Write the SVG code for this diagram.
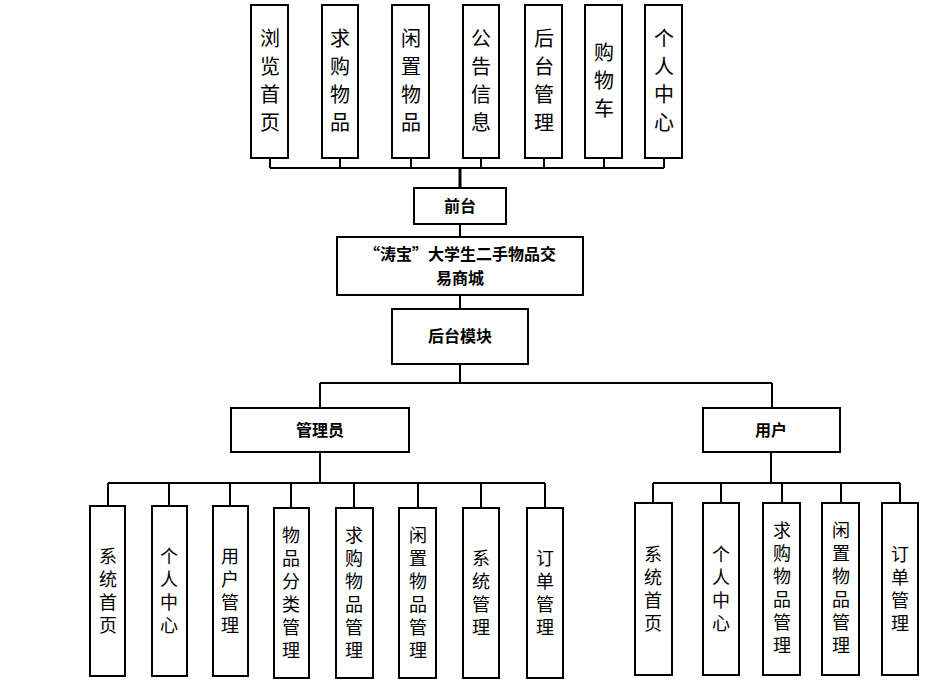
<svg xmlns="http://www.w3.org/2000/svg" width="929" height="689" viewBox="0 0 929 689">
<style>
rect{fill:#fff;stroke:#000;stroke-width:2}
text{font-family:"Noto Sans CJK SC",sans-serif;fill:#000;text-anchor:middle}
.t{font-size:20px}
.b{font-size:18px}
.h{font-size:16px;font-weight:bold}
.c{fill:none;stroke:#000;stroke-width:2}
</style>
<rect x="0" y="0" width="929" height="689" style="stroke:none"/>
<g id="connectors">
<path class="c" d="M270 158V168M340 158V168M411 158V168M481 158V168M544 158V168M604 158V168M664 158V168M270 168H664"/>
<path d="M460 168V188" stroke="#000" stroke-width="3"/>
<path class="c" d="M460 224V237M460 295V309M460 364V383M320 383H772M320 383V408M772 383V408"/>
<path class="c" d="M320 452V483M108 483H545M108 483V506M169 483V506M230 483V506M291 483V508M354 483V508M418 483V508M481 483V508M545 483V508"/>
<path class="c" d="M771 452V483M653 483H900M653 483V503M721 483V503M782 483V503M841 483V503M900 483V503"/>
</g>
<g id="n1"><rect x="251" y="5" width="37" height="153"/><text class="t" x="270" y="46"><tspan x="270">浏</tspan><tspan x="270" dy="28">览</tspan><tspan x="270" dy="28">首</tspan><tspan x="270" dy="28">页</tspan></text></g>
<g id="n2"><rect x="322" y="5" width="36" height="153"/><text class="t" x="340" y="46"><tspan x="340">求</tspan><tspan x="340" dy="28">购</tspan><tspan x="340" dy="28">物</tspan><tspan x="340" dy="28">品</tspan></text></g>
<g id="n3"><rect x="392" y="5" width="37" height="153"/><text class="t" x="411" y="46"><tspan x="411">闲</tspan><tspan x="411" dy="28">置</tspan><tspan x="411" dy="28">物</tspan><tspan x="411" dy="28">品</tspan></text></g>
<g id="n4"><rect x="463" y="5" width="36" height="153"/><text class="t" x="481" y="46"><tspan x="481">公</tspan><tspan x="481" dy="28">告</tspan><tspan x="481" dy="28">信</tspan><tspan x="481" dy="28">息</tspan></text></g>
<g id="n5"><rect x="525" y="5" width="37" height="153"/><text class="t" x="544" y="46"><tspan x="544">后</tspan><tspan x="544" dy="28">台</tspan><tspan x="544" dy="28">管</tspan><tspan x="544" dy="28">理</tspan></text></g>
<g id="n6"><rect x="585" y="5" width="37" height="153"/><text class="t" x="604" y="60"><tspan x="604">购</tspan><tspan x="604" dy="28">物</tspan><tspan x="604" dy="28">车</tspan></text></g>
<g id="n7"><rect x="645" y="5" width="37" height="153"/><text class="t" x="664" y="46"><tspan x="664">个</tspan><tspan x="664" dy="28">人</tspan><tspan x="664" dy="28">中</tspan><tspan x="664" dy="28">心</tspan></text></g>
<g id="qiantai"><rect x="414" y="188" width="92" height="36"/><text class="h" x="460" y="212">前台</text></g>
<g id="main"><rect x="337" y="237" width="246" height="58"/><text class="h" x="460" y="260">“涛宝”大学生二手物品交</text><text class="h" x="460" y="284">易商城</text></g>
<g id="houtai"><rect x="392" y="309" width="136" height="55"/><text class="h" x="460" y="342">后台模块</text></g>
<g id="admin"><rect x="231" y="408" width="178" height="44"/><text class="h" x="320" y="436">管理员</text></g>
<g id="user"><rect x="703" y="408" width="137" height="44"/><text class="h" x="771" y="436">用户</text></g>
<g id="a1"><rect x="90" y="506" width="35" height="170"/><text class="b" y="563"><tspan x="108">系</tspan><tspan x="108" dy="23">统</tspan><tspan x="108" dy="23">首</tspan><tspan x="108" dy="23">页</tspan></text></g>
<g id="a2"><rect x="152" y="506" width="35" height="170"/><text class="b" y="563"><tspan x="169">个</tspan><tspan x="169" dy="23">人</tspan><tspan x="169" dy="23">中</tspan><tspan x="169" dy="23">心</tspan></text></g>
<g id="a3"><rect x="213" y="506" width="35" height="170"/><text class="b" y="563"><tspan x="230">用</tspan><tspan x="230" dy="23">户</tspan><tspan x="230" dy="23">管</tspan><tspan x="230" dy="23">理</tspan></text></g>
<g id="a4"><rect x="274" y="508" width="35" height="170"/><text class="b" y="542"><tspan x="291">物</tspan><tspan x="291" dy="23">品</tspan><tspan x="291" dy="23">分</tspan><tspan x="291" dy="23">类</tspan><tspan x="291" dy="23">管</tspan><tspan x="291" dy="23">理</tspan></text></g>
<g id="a5"><rect x="336" y="508" width="37" height="170"/><text class="b" y="542"><tspan x="354">求</tspan><tspan x="354" dy="23">购</tspan><tspan x="354" dy="23">物</tspan><tspan x="354" dy="23">品</tspan><tspan x="354" dy="23">管</tspan><tspan x="354" dy="23">理</tspan></text></g>
<g id="a6"><rect x="399" y="508" width="37" height="170"/><text class="b" y="542"><tspan x="418">闲</tspan><tspan x="418" dy="23">置</tspan><tspan x="418" dy="23">物</tspan><tspan x="418" dy="23">品</tspan><tspan x="418" dy="23">管</tspan><tspan x="418" dy="23">理</tspan></text></g>
<g id="a7"><rect x="463" y="508" width="36" height="170"/><text class="b" y="565"><tspan x="481">系</tspan><tspan x="481" dy="23">统</tspan><tspan x="481" dy="23">管</tspan><tspan x="481" dy="23">理</tspan></text></g>
<g id="a8"><rect x="527" y="508" width="36" height="170"/><text class="b" y="565"><tspan x="545">订</tspan><tspan x="545" dy="23">单</tspan><tspan x="545" dy="23">管</tspan><tspan x="545" dy="23">理</tspan></text></g>
<g id="u1"><rect x="635" y="503" width="37" height="172"/><text class="b" y="561"><tspan x="653">系</tspan><tspan x="653" dy="23">统</tspan><tspan x="653" dy="23">首</tspan><tspan x="653" dy="23">页</tspan></text></g>
<g id="u2"><rect x="703" y="503" width="36" height="172"/><text class="b" y="561"><tspan x="721">个</tspan><tspan x="721" dy="23">人</tspan><tspan x="721" dy="23">中</tspan><tspan x="721" dy="23">心</tspan></text></g>
<g id="u3"><rect x="763" y="503" width="37" height="172"/><text class="b" y="537"><tspan x="782">求</tspan><tspan x="782" dy="23">购</tspan><tspan x="782" dy="23">物</tspan><tspan x="782" dy="23">品</tspan><tspan x="782" dy="23">管</tspan><tspan x="782" dy="23">理</tspan></text></g>
<g id="u4"><rect x="822" y="503" width="37" height="172"/><text class="b" y="537"><tspan x="841">闲</tspan><tspan x="841" dy="23">置</tspan><tspan x="841" dy="23">物</tspan><tspan x="841" dy="23">品</tspan><tspan x="841" dy="23">管</tspan><tspan x="841" dy="23">理</tspan></text></g>
<g id="u5"><rect x="882" y="503" width="36" height="172"/><text class="b" y="561"><tspan x="900">订</tspan><tspan x="900" dy="23">单</tspan><tspan x="900" dy="23">管</tspan><tspan x="900" dy="23">理</tspan></text></g>
</svg>
